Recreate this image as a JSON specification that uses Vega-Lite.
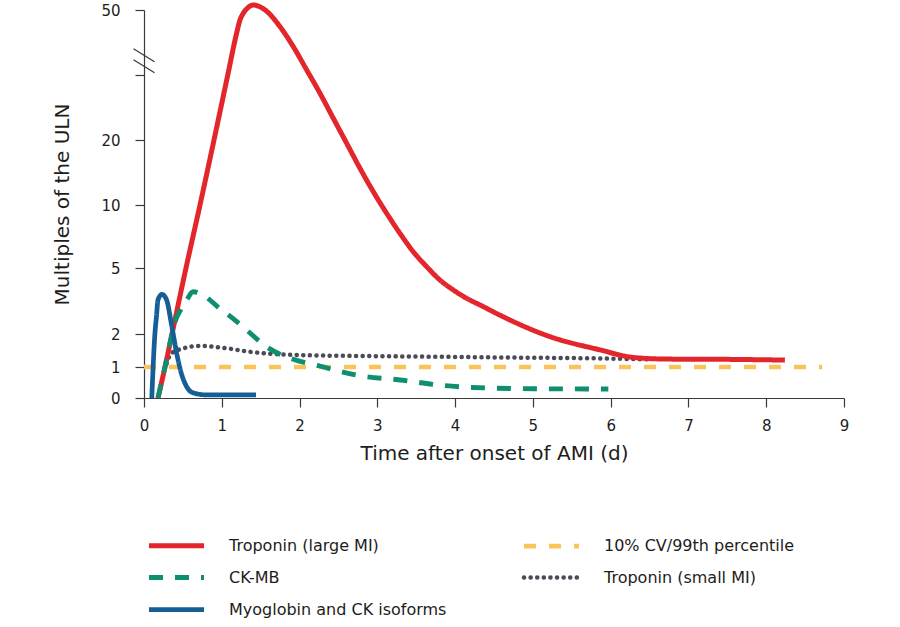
{
  "$schema": "https://vega.github.io/schema/vega-lite/v6.json",
  "width": 700,
  "height": 388,
  "autosize": {"type": "none"},
  "padding": {"left": 144, "top": 10, "right": 56, "bottom": 229},
  "background": "white",
  "config": {
    "view": {"stroke": null},
    "font": "DejaVu Sans",
    "axis": {
      "grid": false,
      "domainColor": "#3a3a3a",
      "domainWidth": 1.2,
      "tickColor": "#3a3a3a",
      "tickWidth": 1.2,
      "tickSize": 9,
      "labelFont": "DejaVu Sans",
      "labelFontSize": 15,
      "labelColor": "#1d1d1b",
      "labelFlush": false,
      "titleFont": "DejaVu Sans",
      "titleFontSize": 20,
      "titleFontWeight": "normal",
      "titleColor": "#1d1d1b"
    }
  },
  "datasets": {
    "curves": [
      {"series": "10% CV/99th percentile", "d": 0, "v": 1},
      {"series": "10% CV/99th percentile", "d": 8.72, "v": 1},
      {"series": "Troponin (large MI)", "d": 0.18, "v": 0},
      {"series": "Troponin (large MI)", "d": 0.27, "v": 1},
      {"series": "Troponin (large MI)", "d": 0.36, "v": 2},
      {"series": "Troponin (large MI)", "d": 0.54, "v": 5},
      {"series": "Troponin (large MI)", "d": 0.72, "v": 10},
      {"series": "Troponin (large MI)", "d": 0.9, "v": 20},
      {"series": "Troponin (large MI)", "d": 1.077, "v": 40},
      {"series": "Troponin (large MI)", "d": 1.19, "v": 46.4},
      {"series": "Troponin (large MI)", "d": 1.234, "v": 48.46},
      {"series": "Troponin (large MI)", "d": 1.277, "v": 49.5},
      {"series": "Troponin (large MI)", "d": 1.34, "v": 50.4},
      {"series": "Troponin (large MI)", "d": 1.405, "v": 50.77},
      {"series": "Troponin (large MI)", "d": 1.49, "v": 50.5},
      {"series": "Troponin (large MI)", "d": 1.578, "v": 49.8},
      {"series": "Troponin (large MI)", "d": 1.749, "v": 47.43},
      {"series": "Troponin (large MI)", "d": 1.92, "v": 44.35},
      {"series": "Troponin (large MI)", "d": 2.092, "v": 40.77},
      {"series": "Troponin (large MI)", "d": 2.263, "v": 34.37},
      {"series": "Troponin (large MI)", "d": 2.434, "v": 26.68},
      {"series": "Troponin (large MI)", "d": 2.606, "v": 19.49},
      {"series": "Troponin (large MI)", "d": 2.777, "v": 15.65},
      {"series": "Troponin (large MI)", "d": 2.948, "v": 12.05},
      {"series": "Troponin (large MI)", "d": 3.12, "v": 9.34},
      {"series": "Troponin (large MI)", "d": 3.291, "v": 7.75},
      {"series": "Troponin (large MI)", "d": 3.462, "v": 6.29},
      {"series": "Troponin (large MI)", "d": 3.635, "v": 5.1},
      {"series": "Troponin (large MI)", "d": 3.806, "v": 4.45},
      {"series": "Troponin (large MI)", "d": 3.977, "v": 4.0},
      {"series": "Troponin (large MI)", "d": 4.149, "v": 3.62},
      {"series": "Troponin (large MI)", "d": 4.32, "v": 3.32},
      {"series": "Troponin (large MI)", "d": 4.58, "v": 2.85},
      {"series": "Troponin (large MI)", "d": 5.22, "v": 1.92},
      {"series": "Troponin (large MI)", "d": 5.86, "v": 1.52},
      {"series": "Troponin (large MI)", "d": 6.29, "v": 1.29},
      {"series": "Troponin (large MI)", "d": 6.72, "v": 1.24},
      {"series": "Troponin (large MI)", "d": 7.58, "v": 1.23},
      {"series": "Troponin (large MI)", "d": 8.24, "v": 1.21},
      {"series": "CK-MB", "d": 0.18, "v": 0},
      {"series": "CK-MB", "d": 0.27, "v": 1},
      {"series": "CK-MB", "d": 0.36, "v": 2},
      {"series": "CK-MB", "d": 0.4, "v": 2.56},
      {"series": "CK-MB", "d": 0.47, "v": 3.1},
      {"series": "CK-MB", "d": 0.55, "v": 3.55},
      {"series": "CK-MB", "d": 0.63, "v": 3.92},
      {"series": "CK-MB", "d": 0.76, "v": 3.77},
      {"series": "CK-MB", "d": 0.97, "v": 3.17},
      {"series": "CK-MB", "d": 1.11, "v": 2.8},
      {"series": "CK-MB", "d": 1.32, "v": 2.18},
      {"series": "CK-MB", "d": 1.57, "v": 1.62},
      {"series": "CK-MB", "d": 1.91, "v": 1.24},
      {"series": "CK-MB", "d": 2.26, "v": 1.03},
      {"series": "CK-MB", "d": 2.73, "v": 0.74},
      {"series": "CK-MB", "d": 3.37, "v": 0.56},
      {"series": "CK-MB", "d": 3.71, "v": 0.44},
      {"series": "CK-MB", "d": 4.22, "v": 0.34},
      {"series": "CK-MB", "d": 4.99, "v": 0.3},
      {"series": "CK-MB", "d": 5.97, "v": 0.29},
      {"series": "Myoglobin and CK isoforms", "d": 0.1, "v": 0},
      {"series": "Myoglobin and CK isoforms", "d": 0.14, "v": 2.0},
      {"series": "Myoglobin and CK isoforms", "d": 0.16, "v": 2.79},
      {"series": "Myoglobin and CK isoforms", "d": 0.18, "v": 3.55},
      {"series": "Myoglobin and CK isoforms", "d": 0.23, "v": 3.8},
      {"series": "Myoglobin and CK isoforms", "d": 0.29, "v": 3.55},
      {"series": "Myoglobin and CK isoforms", "d": 0.36, "v": 2.3},
      {"series": "Myoglobin and CK isoforms", "d": 0.42, "v": 1.42},
      {"series": "Myoglobin and CK isoforms", "d": 0.48, "v": 0.8},
      {"series": "Myoglobin and CK isoforms", "d": 0.55, "v": 0.36},
      {"series": "Myoglobin and CK isoforms", "d": 0.63, "v": 0.17},
      {"series": "Myoglobin and CK isoforms", "d": 0.8, "v": 0.1},
      {"series": "Myoglobin and CK isoforms", "d": 1.44, "v": 0.1},
      {"series": "Troponin (small MI)", "d": 0.29, "v": 1.1},
      {"series": "Troponin (small MI)", "d": 0.35, "v": 1.41},
      {"series": "Troponin (small MI)", "d": 0.5, "v": 1.56},
      {"series": "Troponin (small MI)", "d": 0.72, "v": 1.64},
      {"series": "Troponin (small MI)", "d": 1.02, "v": 1.58},
      {"series": "Troponin (small MI)", "d": 1.4, "v": 1.45},
      {"series": "Troponin (small MI)", "d": 1.87, "v": 1.37},
      {"series": "Troponin (small MI)", "d": 2.94, "v": 1.33},
      {"series": "Troponin (small MI)", "d": 3.79, "v": 1.31},
      {"series": "Troponin (small MI)", "d": 4.56, "v": 1.29},
      {"series": "Troponin (small MI)", "d": 5.85, "v": 1.26},
      {"series": "Troponin (small MI)", "d": 6.5, "v": 1.23}
    ],
    "axisbreak": [{"d": 0, "v": 42.2}]
  },
  "layer": [
    {
      "data": {"name": "curves"},
      "transform": [{"filter": "datum.series == 'Troponin (small MI)'"}],
      "mark": {"type": "line", "interpolate": "monotone", "strokeCap": "round"},
      "encoding": {
        "x": {"field": "d", "type": "quantitative", "scale": {"domain": [0, 9], "nice": false}, "axis": {"values": [0,1,2,3,4,5,6,7,8,9], "format": "d", "labelPadding": 11, "titlePadding": 10}, "title": "Time after onset of AMI (d)"},
        "y": {"field": "v", "type": "quantitative", "scale": {"domain": [0,1,2,5,10,20,40,50], "range": [388,357,324,258,195,130,65,0]}, "axis": {"values": [0,1,2,5,10,20,40,50], "labelExpr": "datum.value == 40 ? '' : datum.label", "labelPadding": 15, "titlePadding": 28}, "title": "Multiples of the ULN"},
        "color": {"field": "series", "type": "nominal", "scale": {"domain": ["Troponin (large MI)", "CK-MB", "Myoglobin and CK isoforms", "10% CV/99th percentile", "Troponin (small MI)"], "range": ["#e2262b", "#0f8f6f", "#165e96", "#f9c55b", "#4b4b57"]},
          "legend": {"title": null, "orient": "none", "legendX": 19, "legendY": 522, "columns": 2, "columnPadding": 67, "rowPadding": 8, "symbolType": "M-2.5,0H2.5", "symbolSize": 484, "symbolStrokeWidth": 4.5, "symbolFillColor": "transparent", "labelFont": "DejaVu Sans", "labelFontSize": 16, "labelColor": "#1d1d1b", "labelOffset": 39, "labelLimit": 400,
            "encode": {"symbols": {"update": {"strokeCap": [{"test": "datum.value === 'Troponin (small MI)'", "value": "round"}, {"value": "butt"}]}}}}},
        "strokeDash": {"field": "series", "type": "nominal", "scale": {"domain": ["Troponin (large MI)", "CK-MB", "Myoglobin and CK isoforms", "10% CV/99th percentile", "Troponin (small MI)"], "range": [[1,0],[14,12],[1,0],[12,13],[0.1,6.5]]}},
        "strokeWidth": {"field": "series", "type": "nominal", "scale": {"domain": ["Troponin (large MI)", "CK-MB", "Myoglobin and CK isoforms", "10% CV/99th percentile", "Troponin (small MI)"], "range": [5,4.5,4.5,3.3,4.2]}, "legend": null}
      }
    },
    {
      "data": {"name": "curves"},
      "transform": [{"filter": "datum.series != 'Troponin (small MI)'"}],
      "mark": {"type": "line", "interpolate": "monotone", "strokeCap": "butt"},
      "encoding": {
        "x": {"field": "d", "type": "quantitative", "scale": {"domain": [0, 9], "nice": false}},
        "y": {"field": "v", "type": "quantitative", "scale": {"domain": [0,1,2,5,10,20,40,50], "range": [388,357,324,258,195,130,65,0]}},
        "color": {"field": "series", "type": "nominal"},
        "strokeDash": {"field": "series", "type": "nominal"},
        "strokeWidth": {"field": "series", "type": "nominal", "legend": null}
      }
    },
    {
      "data": {"name": "axisbreak"},
      "mark": {"type": "point", "shape": "M-1,-1.14L1,0.1M-1,-0.1L1,1.14", "size": 441, "filled": false, "stroke": "#3a3a3a", "strokeWidth": 1.2, "opacity": 1},
      "encoding": {
        "x": {"field": "d", "type": "quantitative"},
        "y": {"field": "v", "type": "quantitative"}
      }
    }
  ]
}
